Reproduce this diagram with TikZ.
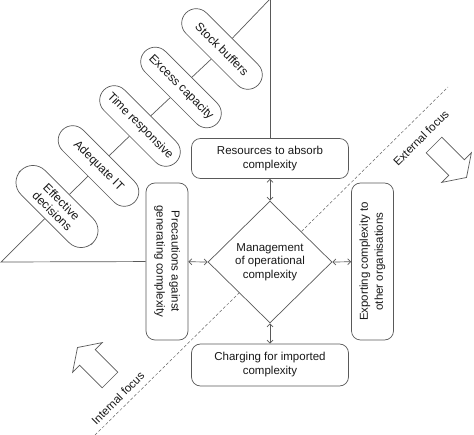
\documentclass[tikz,border=0pt]{standalone}
\usepackage{fontspec}
\setmainfont{Liberation Sans}
\usetikzlibrary{shapes.geometric,arrows.meta}
\begin{document}
\begin{tikzpicture}[x=1pt,y=-1pt,
  ln/.style={draw=black!65,line width=0.7pt},
  box/.style={ln,rounded corners=9pt,fill=white,align=center,text=black!90,
    font=\fontsize{11.5}{14}\selectfont,inner sep=2pt},
  vbox/.style={box,font=\fontsize{11.5}{15}\selectfont,minimum width=157pt,minimum height=42pt},
  hbox/.style={box,minimum width=157pt},
  pill/.style={ln,rounded corners=14.5pt,fill=white,align=center,rotate=-45,text=black!90,
    minimum width=102pt,minimum height=29pt,inner sep=1pt,font=\fontsize{12}{13}\selectfont},
  dbl/.style={ln,{Straight Barb[length=3pt,width=6pt]}-{Straight Barb[length=3pt,width=6pt]}},
  focus/.style={rotate=45,text=black!90,font=\fontsize{11.5}{14}\selectfont},
  blockarrow/.style={ln,fill=white,line join=miter},
  divider/.style={draw=black!60,line width=0.5pt,dash pattern=on 3pt off 2pt},
]
\useasboundingbox (0,0) rectangle (474,435);

% dashed divider
\coordinate (dA) at (95,435);
\coordinate (dB) at (448,87);
\draw[divider] (dA) -- (dB);

% central nodes
\node[ln,diamond,shape aspect=1,fill=white,minimum width=124pt,minimum height=122pt,
  inner sep=0pt,align=center,text=black!90,font=\fontsize{11.5}{13.5}\selectfont]
  (dia) at (270,262) {Management\\of operational\\complexity};
\node[hbox,minimum height=40pt] (res) at (270,158.5) {Resources to absorb\\complexity};
\node[hbox,minimum height=42pt] (chg) at (270,365) {Charging for imported\\complexity};
\node[vbox,rotate=-90] (prec) at (167,261.5) {Precautions against\\generating complexity};
\node[vbox,rotate=90] (exp) at (372.5,261.5) {Exporting complexity to\\other organisations};

% pills on the diagonal
\node[pill] (stock) at (222,49) {Stock buffers};
\node[pill] (excess) at (181,87.5) {Excess capacity};
\node[pill] (time) at (140,126) {Time responsive};
\node[pill] (adeq) at (98.5,166) {Adequate IT};
\node[pill,minimum height=34pt,rounded corners=17pt] (eff) at (57,206.5) {Effective\\decisions};

% triangle corners
\coordinate (apex) at (270,-1);
\coordinate (bl) at (1,262);

\draw[ln] (apex) -- (res.north);
\draw[ln] (apex) -- (stock) -- (excess) -- (time) -- (adeq) -- (eff) -- (bl) -- (prec);

% double arrows
\draw[dbl] (res.south) -- (dia.north);
\draw[dbl] (dia.south) -- (chg.north);
\draw[dbl] (prec) -- (dia.west);
\draw[dbl] (dia.east) -- (exp);

% focus labels
\node[focus] (ext) at (421,138) {External focus};
\node[focus] (int) at (118,398) {Internal focus};

% block arrows
\draw[blockarrow] (117.8,372.2) -- (95.2,349.6) -- (102.2,342.6) -- (77.5,347.5)
  -- (72.6,372.2) -- (79.6,365.2) -- (102.2,387.8) -- cycle;
\draw[blockarrow] (441.8,137.2) -- (464.4,159.8) -- (471.4,152.8) -- (466.5,177.5)
  -- (441.8,182.4) -- (448.8,175.4) -- (426.2,152.8) -- cycle;
\end{tikzpicture}
\end{document}
